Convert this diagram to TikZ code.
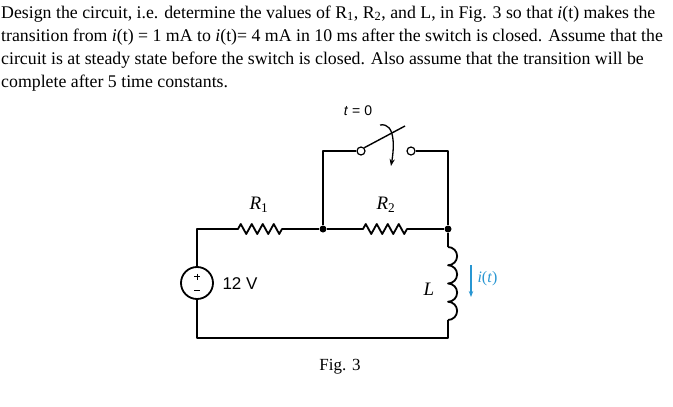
\documentclass[tikz,border=0pt]{standalone}
\usepackage{fontspec}
\setmainfont{Liberation Serif}
\newfontfamily\arial{Liberation Sans}
\usetikzlibrary{arrows.meta,decorations.pathmorphing}
\tikzset{
  wire/.style={line width=1.8pt,line join=round},
  txt/.style={anchor=west,inner sep=0pt,font=\fontsize{17.8}{19}\selectfont},
  dot/.style={circle,fill=black,inner sep=0pt,minimum size=7pt},
  term/.style={circle,draw,fill=white,line width=1.2pt,inner sep=0pt,minimum size=8pt},
  res/.style={wire,decorate,decoration={zigzag,segment length=11pt,amplitude=5pt,pre length=1pt,post length=1pt}},
}
\begin{document}
\begin{tikzpicture}[x=1pt,y=-1pt]
\useasboundingbox (0,0) rectangle (673,407);
\node[txt] (l1) at (1,14) {Design the circuit, i.e. determine the values of R\textsubscript{1}, R\textsubscript{2}, and L, in Fig. 3 so that \textit{i}(t) makes the};
\node[txt] (l2) at (1,37) {transition from \textit{i}(t) = 1 mA to \textit{i}(t)= 4 mA in 10 ms after the switch is closed. Assume that the};
\node[txt] (l3) at (1,60) {circuit is at steady state before the switch is closed. Also assume that the transition will be};
\node[txt] (l4) at (1,83) {complete after 5 time constants.};
% coordinates
\coordinate (bl) at (197,338);
\coordinate (br) at (448,338);
\coordinate (tl) at (197,229);
\coordinate (r1a) at (237,229);
\coordinate (r1b) at (283,229);
\node[dot] (j1) at (323,229) {};
\node[dot] (j2) at (448,229) {};
\coordinate (r2a) at (362,229);
\coordinate (r2b) at (408,229);
\coordinate (st) at (323,151);
\coordinate (sr) at (448,151);
\node[term] (s1) at (361,151) {};
\node[term] (s2) at (411,151) {};
\node[circle,draw,line width=1.8pt,minimum size=32pt,inner sep=0pt] (src) at (197,283) {};
\draw[line width=0.8pt] (194,276.5) -- (200,276.5) (197,273.5) -- (197,279.5);
\draw[line width=0.8pt] (194,290) -- (200,290);
\coordinate (la) at (448,247);
\coordinate (lb) at (448,320);
% wires
\draw[wire] (src.north) -- (tl) -- (r1a);
\draw[res] (r1a) -- (r1b);
\draw[wire] (r1b) -- (j1) -- (r2a);
\draw[res] (r2a) -- (r2b);
\draw[wire] (r2b) -- (j2) -- (la);
\draw[wire] (j1) -- (st) -- (s1);
\draw[wire] (s2) -- (sr) -- (j2);
\draw[wire] (src.south) -- (bl) -- (br) -- (lb);
\draw[wire] (la) \foreach \k in {0,1,2,3} { arc[start angle=-90,end angle=90,radius=9.125] } ;
% switch
\draw[line width=1.4pt] (s1.north east) -- (405,126);
\draw[line width=1.3pt,-{Stealth[length=7pt]}] (380,125) to[out=10,in=80] (391,166);
% labels
\node[font=\arial\fontsize{14}{14}\selectfont] (t0) at (358,111) {\textit{t} = 0};
\node[font=\fontsize{19}{19}\selectfont] (R1) at (259,205) {\textit{R}\textsubscript{1}};
\node[font=\fontsize{19}{19}\selectfont] (R2) at (386,205) {\textit{R}\textsubscript{2}};
\node[font=\arial\fontsize{17}{17}\selectfont,anchor=west] (v) at (219,284) {12 V};
\node[font=\fontsize{19}{19}\selectfont] (L) at (429,289) {\textit{L}};
\coordinate (ia) at (471,265);
\coordinate (ib) at (471,297);
\draw[color={rgb,255:red,40;green,150;blue,210},line width=1.5pt,-{Stealth[length=6pt]}] (ia) -- (ib);
\node[font=\fontsize{16}{16}\selectfont,color={rgb,255:red,40;green,150;blue,210},anchor=west] (it) at (474,279) {\textit{i}(\textit{t})};
\node[font=\fontsize{17}{17}\selectfont] (fig) at (340,367) {Fig. 3};
\end{tikzpicture}
\end{document}
